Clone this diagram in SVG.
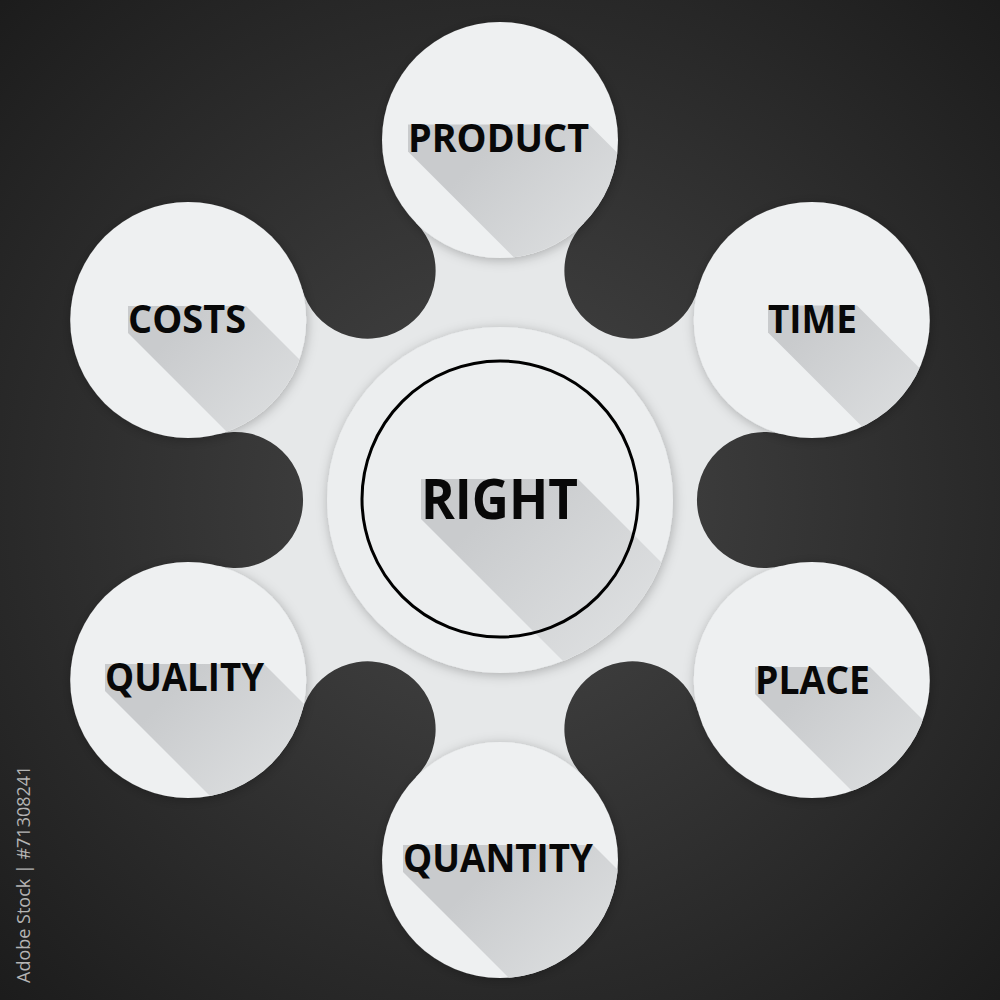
<svg xmlns="http://www.w3.org/2000/svg" width="1000" height="1000" viewBox="0 0 1000 1000">
<defs>
<style>
.lbl{font-family:"Open Sans","Liberation Sans",sans-serif;font-weight:700;fill:#080808;text-anchor:middle}
.disc{fill:#eef0f1}
.ls{fill:url(#lsg)}
.lsr{fill:url(#lsgr)}
</style>
<radialGradient id="bg" cx="500" cy="500" r="720" gradientUnits="userSpaceOnUse">
<stop offset="0" stop-color="#474747"/>
<stop offset="1" stop-color="#1b1b1b"/>
</radialGradient>
<linearGradient id="lsg" gradientUnits="userSpaceOnUse" x1="0" y1="0" x2="160" y2="160">
<stop offset="0" stop-color="#c9cbcd"/>
<stop offset="1" stop-color="#e7e9ea"/>
</linearGradient>
<linearGradient id="lsgr" gradientUnits="userSpaceOnUse" x1="0" y1="0" x2="200" y2="200">
<stop offset="0" stop-color="#c9cbcd"/>
<stop offset="1" stop-color="#e7e9ea"/>
</linearGradient>
<filter id="ds" filterUnits="userSpaceOnUse" x="0" y="0" width="1000" height="1000">
<feGaussianBlur in="SourceAlpha" stdDeviation="6"/>
<feOffset dx="1" dy="2" result="b"/>
<feFlood flood-color="#000" flood-opacity="0.26"/>
<feComposite in2="b" operator="in"/>
<feMerge><feMergeNode/><feMergeNode in="SourceGraphic"/></feMerge>
</filter>
<clipPath id="cP"><circle cx="500" cy="140" r="118"/></clipPath>
<clipPath id="cT"><circle cx="811.77" cy="320" r="118"/></clipPath>
<clipPath id="cL"><circle cx="811.77" cy="680" r="118"/></clipPath>
<clipPath id="cQ"><circle cx="500" cy="860" r="118"/></clipPath>
<clipPath id="cY"><circle cx="188.23" cy="680" r="118"/></clipPath>
<clipPath id="cC"><circle cx="188.23" cy="320" r="118"/></clipPath>
<clipPath id="cR"><circle cx="500" cy="500" r="173"/></clipPath>
</defs>
<rect width="1000" height="1000" fill="url(#bg)"/>
<g id="connectors">
<path d="M500 140 L584.1 222.8 A68 68 0 1 0 698 288.5 L811.77 320 L782.1 434.2 A68 68 0 1 0 782.1 565.8 L811.77 680 L698 711.5 A68 68 0 1 0 584.1 777.2 L500 860 L415.9 777.2 A68 68 0 1 0 302 711.5 L188.23 680 L217.9 565.8 A68 68 0 1 0 217.9 434.2 L188.23 320 L302 288.5 A68 68 0 1 0 415.9 222.8 Z" fill="#e6e8e9"/>
</g>
<g id="node-product">
<circle class="disc" cx="500" cy="140" r="118" filter="url(#ds)"/>
<g clip-path="url(#cP)"><polygon class="ls" transform="translate(498.5 138)" points="-90.5,-13.5 90.5,-13.5 350.5,246.5 350.5,273.5 169.5,273.5 -90.5,13.5"/></g>
<text class="lbl" x="498.5" y="152" font-size="39" textLength="181" lengthAdjust="spacingAndGlyphs">PRODUCT</text>
</g>
<g id="node-time">
<circle class="disc" cx="811.77" cy="320" r="118" filter="url(#ds)"/>
<g clip-path="url(#cT)"><polygon class="ls" transform="translate(812.5 319)" points="-44.5,-13.5 44.5,-13.5 304.5,246.5 304.5,273.5 215.5,273.5 -44.5,13.5"/></g>
<text class="lbl" x="812.5" y="333" font-size="39" textLength="89" lengthAdjust="spacingAndGlyphs">TIME</text>
</g>
<g id="node-place">
<circle class="disc" cx="811.77" cy="680" r="118" filter="url(#ds)"/>
<g clip-path="url(#cL)"><polygon class="ls" transform="translate(812.5 680.5)" points="-57.5,-13.5 57.5,-13.5 317.5,246.5 317.5,273.5 202.5,273.5 -57.5,13.5"/></g>
<text class="lbl" x="812.5" y="694" font-size="39" textLength="115" lengthAdjust="spacingAndGlyphs">PLACE</text>
</g>
<g id="node-quantity">
<circle class="disc" cx="500" cy="860" r="118" filter="url(#ds)"/>
<g clip-path="url(#cQ)"><polygon class="ls" transform="translate(498 858.5)" points="-95,-13.5 95,-13.5 355,246.5 355,273.5 165,273.5 -95,13.5"/></g>
<text class="lbl" x="498" y="872" font-size="39" textLength="190" lengthAdjust="spacingAndGlyphs">QUANTITY</text>
</g>
<g id="node-quality">
<circle class="disc" cx="188.23" cy="680" r="118" filter="url(#ds)"/>
<g clip-path="url(#cY)"><polygon class="ls" transform="translate(184.5 677.5)" points="-79.5,-13.5 79.5,-13.5 339.5,246.5 339.5,273.5 180.5,273.5 -79.5,13.5"/></g>
<text class="lbl" x="184.5" y="691" font-size="39" textLength="159" lengthAdjust="spacingAndGlyphs">QUALITY</text>
</g>
<g id="node-costs">
<circle class="disc" cx="188.23" cy="320" r="118" filter="url(#ds)"/>
<g clip-path="url(#cC)"><polygon class="ls" transform="translate(187 319.5)" points="-59,-13.5 59,-13.5 319,246.5 319,273.5 201,273.5 -59,13.5"/></g>
<text class="lbl" x="187" y="333" font-size="39" textLength="118" lengthAdjust="spacingAndGlyphs">COSTS</text>
</g>
<g id="node-right">
<circle cx="500" cy="500" r="173" fill="#eceeef" filter="url(#ds)"/>
<g clip-path="url(#cR)"><polygon class="lsr" transform="translate(499.5 499)" points="-78.5,-20 78.5,-20 378.5,280 378.5,320 221.5,320 -78.5,20"/></g>
<circle cx="500" cy="499" r="138" fill="none" stroke="#000" stroke-width="3"/>
<text class="lbl" x="499.5" y="519" font-size="56" textLength="157" lengthAdjust="spacingAndGlyphs">RIGHT</text>
</g>
<text transform="translate(30 983) rotate(-90)" font-family="Open Sans, Liberation Sans, sans-serif" font-size="18" fill="#b4b4b4">Adobe Stock | #71308241</text>
</svg>
